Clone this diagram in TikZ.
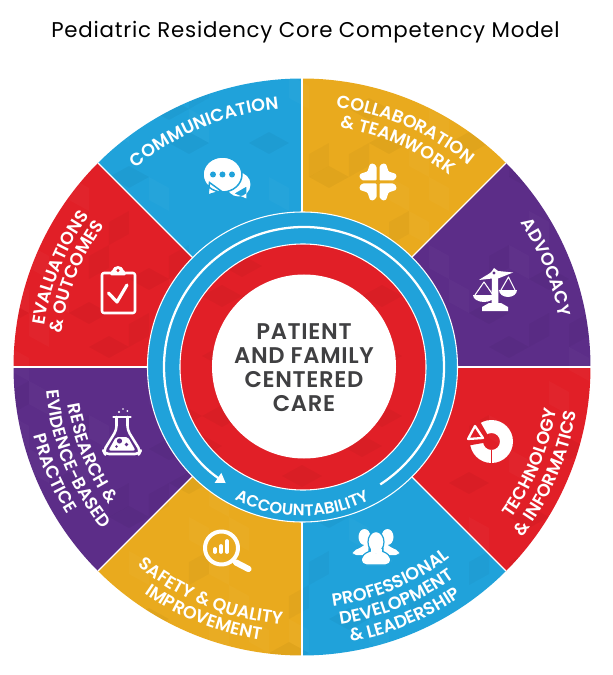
\documentclass[tikz,border=0pt]{standalone}
\usepackage{fontspec}
\setmainfont{Poppins}
\newfontfamily\capfont{Poppins}[UprightFont=* SemiBold]
\newfontfamily\titlefont{Poppins}[LetterSpace=3.6]
\newfontfamily\carefont{Poppins}[UprightFont=* SemiBold,LetterSpace=3]
\usetikzlibrary{arrows.meta,decorations.text}
\definecolor{wheelblue}{HTML}{20A2DA}
\definecolor{wheelgold}{HTML}{E9AA1E}
\definecolor{wheelpurple}{HTML}{5C2D88}
\definecolor{wheelred}{HTML}{E11F27}
\definecolor{centergray}{HTML}{404042}
\newcommand{\bigcaps}{\capfont\fontsize{13.2pt}{13.2pt}\selectfont\color{white}}
\newcommand{\ringcaps}{\capfont\fontsize{12.2pt}{12.2pt}\selectfont\color{white}}
\tikzset{
    iconfill/.style={fill=white,draw=none},
    iconline/.style={draw=white,line width=1.9pt,fill=none,line cap=round,line join=round},
    upperlabel/.style={decorate,decoration={text along path,text align=center,text={|\bigcaps|#1}}},
    lowerlabel/.style={decorate,decoration={text along path,text align=center,text={|\bigcaps|#1}}},
    ringlabel/.style={decorate,decoration={text along path,text align=center,text={|\ringcaps|#1}}},
}
\begin{document}
\begin{tikzpicture}[x=0.75pt,y=0.75pt]
    \useasboundingbox (-302,-308) rectangle (310,367);
    % sectors
    \foreach \from/\col in {90/wheelgold,45/wheelpurple,0/wheelred,-45/wheelblue,-90/wheelgold,-135/wheelpurple,-180/wheelred,-225/wheelblue}
        \fill[\col] (0,0) -- (\from:288.5) arc[start angle=\from,delta angle=-45,radius=288.5] -- cycle;
    % faint cube texture
    \begin{scope}
        \clip (0,0) circle (288.5);
        \foreach \i in {-8,...,8}
            \foreach \j in {-9,...,9} {
                \pgfmathtruncatemacro{\pick}{mod(abs(7*\i*\i+11*\j+13*\i*\j+5*\i),5)}
                \pgfmathsetmacro{\cx}{40*\i+20*mod(abs(\j),2)+7}
                \pgfmathsetmacro{\cy}{34*\j+9}
                \ifnum\pick=0
                    \fill[black,opacity=.035] (\cx,\cy) -- ++(20,11) -- ++(-20,11) -- ++(-20,-11) -- cycle;
                \fi
                \ifnum\pick=1
                    \fill[black,opacity=.028] (\cx,\cy) -- ++(20,11) -- ++(0,-23) -- ++(-20,-11) -- cycle;
                \fi
                \ifnum\pick=3
                    \fill[white,opacity=.025] (\cx,\cy) -- ++(-20,11) -- ++(0,-23) -- ++(20,-11) -- cycle;
                \fi
            }
    \end{scope}
    % dividers
    \foreach \a in {0,45,...,315}
        \draw[white,line width=.9pt] (\a:150) -- (\a:288.5);
    % rings
    \fill[wheelblue,draw=white,line width=.8pt] (0.5,0) circle (155);
    \fill[wheelred,draw=white,line width=.8pt] (1,0) circle (123);
    \begin{scope}
        \clip (1,0) circle (122.5);
        \foreach \i in {-3,...,3}
            \foreach \j in {-4,...,4} {
                \pgfmathtruncatemacro{\pick}{mod(abs(2*\i+3*\j*\j+\i*\j),4)}
                \ifnum\pick=0
                    \fill[black,opacity=.03] (40*\i+20*\j,30*\j) -- ++(20,11) -- ++(-20,11) -- ++(-20,-11) -- cycle;
                \fi
            }
    \end{scope}
    \fill[white] (2,0.5) circle (92);
    \draw[white,line width=1.7pt,-{Triangle[length=7pt,width=8.5pt]}] (2,0)+(-57:140) arc[start angle=-57,delta angle=293,radius=140];
    % wheel labels
    \foreach \r/\mid/\txt in {259/112.5/COMMUNICATION,262/66.5/COLLABORATION,242/66.7/{\&} TEAMWORK,262/22.2/ADVOCACY,261/157.8/EVALUATIONS,243/158.2/{\&} OUTCOMES}
        \path[upperlabel/.expand once=\txt] (\mid+70:\r) arc[start angle=\mid+70,delta angle=-140,radius=\r];
    \foreach \r/\mid/\txt in {258/-22.7/TECHNOLOGY,278/-23.5/{\&} INFORMATICS,241/-67.4/PROFESSIONAL,260/-67.8/DEVELOPMENT,279/-67.6/{\&} LEADERSHIP,258/-112/SAFETY {\&} QUALITY,276/-111.7/IMPROVEMENT,237/202.3/RESEARCH {\&},257/202.2/EVIDENCE-BASED,277/203.3/PRACTICE}
        \path[lowerlabel/.expand once=\txt] (\mid-70:\r) arc[start angle=\mid-70,delta angle=140,radius=\r];
    \path[ringlabel=ACCOUNTABILITY] (-150:149) arc[start angle=-150,delta angle=120,radius=149];
    % chat icon
    \begin{scope}[shift={(-79.5,192.5)}]
        \fill[iconfill] (16,-10) circle (12) (24,-24) -- (12,-19) -- (24,-12) -- cycle;
        \fill[white,draw=wheelblue,line width=1.1pt] (-13,-8) -- (-14.5,-20.5) -- (-3,-17) -- (0,-17.5) arc[start angle=-90,delta angle=360,x radius=19.5,y radius=17.5] -- cycle;
        \foreach \x in {-9.5,0,9.5}
            \fill[wheelblue] (\x,0) circle (3);
    \end{scope}
    % collaboration icon
    \begin{scope}[shift={(76,185)}]
        \foreach \a in {0,90,180,270}
            \fill[iconfill,rotate=\a,rounded corners=.7pt] (1.5,1.5) -- (1.5,15.5) -- (4.5,18.5) -- (8,18) -- (10.5,10.5) -- (18,8) -- (18.5,4.5) -- (15.5,1.5) -- cycle;
    \end{scope}
    % scales icon
    \begin{scope}[shift={(193,79)}]
        \fill[iconfill] (-3,12) -- (3,12) -- (3.5,-16) -- (-3.5,-16) -- cycle;
        \fill[iconfill] (-6,-15) -- (6,-15) -- (13,-19) -- (13,-23) -- (-13,-23) -- (-13,-19) -- cycle;
        \fill[iconfill] (-16,8) .. controls (-9,13) and (-5,14) .. (-3,17) -- (-1,20) -- (3,17) -- (18,15.5) -- (3,9.5) -- (-3,9.5) -- cycle;
        \fill[wheelpurple] (-1,15) circle (1.7);
        \draw[white,line width=.8pt,line join=round] (-20,-7) -- (-11,6) -- (-2,-7) (6,-2) -- (13.5,11) -- (20,-2);
        \fill[iconfill] (-22,-7) -- (0,-7) arc[start angle=0,delta angle=-180,x radius=11,y radius=7] -- cycle;
        \fill[iconfill] (4,-2) -- (22,-2) arc[start angle=0,delta angle=-180,x radius=9,y radius=7] -- cycle;
    \end{scope}
    % chart icon
    \begin{scope}[shift={(189.5,-74.5)}]
        \fill[iconfill,even odd rule] (0,0) circle (21.5) (0,0) circle (8.5);
        \fill[wheelred] (0,0) -- (190:27) -- (120:27) -- cycle;
        \draw[wheelred,line width=.8pt] (0,-8) -- (0,-22);
        \draw[iconline,line width=1.7pt] (-16.5,15.5) -- (-23.5,2.5) -- (-8.5,3.5) -- cycle;
    \end{scope}
    % people icon
    \begin{scope}[shift={(74,-180)}]
        \foreach \x in {-1,1} {
            \fill[iconfill,xscale=\x] (11.5,10) ellipse (6 and 8);
            \fill[iconfill,xscale=\x,rounded corners=2.5pt] (7,6) -- (14,0) -- (23,-4) -- (23,-8) -- (8,-8) -- cycle;
        }
        \fill[white,draw=wheelblue,line width=.9pt,rounded corners=4pt] (-5,-3) -- (-15,-9) -- (-15,-18) -- (15,-18) -- (15,-9) -- (5,-3) -- cycle;
        \fill[white,draw=wheelblue,line width=.9pt] (0,5) ellipse (8 and 10.5);
        \fill[white] (-5.5,-6) rectangle (5.5,-2);
    \end{scope}
    % flask icon
    \begin{scope}[shift={(-180,-69)}]
        \draw[iconline,rounded corners=3pt] (-5.5,19) -- (-5.5,6) -- (-18.5,-15) -- (-17,-18) -- (17,-18) -- (18.5,-15) -- (5.5,6) -- (5.5,19);
        \draw[iconline] (-8.5,19) -- (8.5,19);
        \fill[iconfill,rounded corners=1.5pt] (-6,-1) -- (6,-1) -- (13.5,-14.5) -- (-13.5,-14.5) -- cycle;
        \fill[wheelpurple] (-2.5,-5) circle (2.6) (4.5,-8.5) circle (1.9) (-5.5,-10.5) circle (1.3);
        \fill[iconfill] (-3,24) circle (1.2) (1,27) circle (.9) (5.5,25) circle (1);
    \end{scope}
    % magnifier icon
    \begin{scope}[shift={(-80.5,-181)}]
        \draw[iconline,line width=3pt] (0,0) circle (16.5);
        \draw[iconline,line width=4.6pt] (14.5,-14.5) -- (27,-21);
        \draw[white,line width=2.8pt,line cap=round] (-6.5,-4) -- (-6.5,-1) (-0.5,-4) -- (-0.5,2) (5.5,-4) -- (5.5,7);
    \end{scope}
    % clipboard icon
    \begin{scope}[shift={(-184,75)}]
        \draw[iconline,rounded corners=1.5pt] (-8,19) -- (-16,19) -- (-16,-21) -- (17,-21) -- (17,19) -- (8,19);
        \fill[iconfill,rounded corners=1.5pt] (-8,16.5) -- (-8,21) -- (-5,21) arc[start angle=180,delta angle=-180,radius=5] -- (8,21) -- (8,16.5) -- cycle;
        \fill[wheelred] (0,21.5) circle (1.6);
        \draw[white,line width=2.4pt,line cap=round,line join=round] (-9.5,-1) -- (-1,-10) -- (9,7);
    \end{scope}
    % center text and title
    \node[align=center,text=centergray,font=\carefont\fontsize{17pt}{18pt}\selectfont] (caretext) at (2,-1) {PATIENT\\AND FAMILY\\CENTERED\\CARE};
    \node[text=black,font=\titlefont\fontsize{16pt}{16pt}\selectfont] (titletext) at (3.5,335) {Pediatric Residency Core Competency Model};
\end{tikzpicture}
\end{document}
